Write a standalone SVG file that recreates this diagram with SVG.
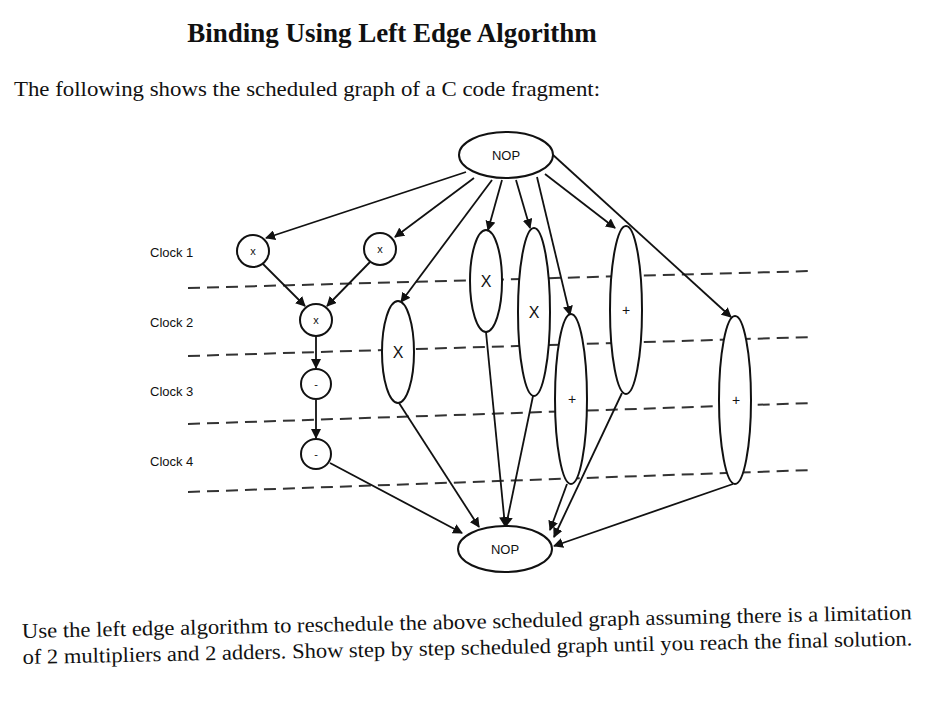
<svg xmlns="http://www.w3.org/2000/svg" width="932" height="716" viewBox="0 0 932 716">
<style>
.n{fill:#fff;stroke:#111;stroke-width:2}
.e{stroke:#111;stroke-width:1.8;fill:none;marker-end:url(#a)}
.d{stroke:#333;stroke-width:2;stroke-dasharray:12 7;fill:none}
.t{font-family:"Liberation Sans",Arial,sans-serif;fill:#111;text-anchor:middle}
.c{font-family:"Liberation Sans",Arial,sans-serif;fill:#111;font-size:13px}
.s{font-family:"Liberation Serif","Times New Roman",serif;fill:#111}
</style>
<defs><marker id="a" markerWidth="10" markerHeight="10" refX="9" refY="5" orient="auto" markerUnits="userSpaceOnUse"><path d="M0,0 L10,5 L0,10 z" fill="#111"/></marker></defs>
<rect width="932" height="716" fill="#fff"/>
<text class="s" x="392" y="42" font-size="27" font-weight="bold" text-anchor="middle">Binding Using Left Edge Algorithm</text>
<text class="s" x="14" y="96" font-size="21" textLength="586" lengthAdjust="spacingAndGlyphs">The following shows the scheduled graph of a C code fragment:</text>
<g transform="rotate(-1.2 22 634)">
<text class="s" x="22" y="638" font-size="21" textLength="890" lengthAdjust="spacingAndGlyphs">Use the left edge algorithm to reschedule the above scheduled graph assuming there is a limitation</text>
<text class="s" x="22" y="664" font-size="21" textLength="890" lengthAdjust="spacingAndGlyphs">of 2 multipliers and 2 adders. Show step by step scheduled graph until you reach the final solution.</text>
</g>
<g id="clocks">
<text class="c" x="150" y="257">Clock 1</text>
<text class="c" x="150" y="327">Clock 2</text>
<text class="c" x="150" y="396">Clock 3</text>
<text class="c" x="150" y="466">Clock 4</text>
<path class="d" d="M188,288 L812,271"/>
<path class="d" d="M188,356 L812,337"/>
<path class="d" d="M188,424 L812,403"/>
<path class="d" d="M188,492 L812,470"/>
</g>
<g id="connectors">
<path class="e" d="M466,172 L266,238"/>
<path class="e" d="M474,178 L395,237"/>
<path class="e" d="M492,180 L401,302"/>
<path class="e" d="M502,180 L488,230"/>
<path class="e" d="M516,180 L530,228"/>
<path class="e" d="M537,177 L570,315"/>
<path class="e" d="M545,174 L615,228"/>
<path class="e" d="M552,154 L731,317"/>
<path class="e" d="M263,264 L305,306"/>
<path class="e" d="M370,262 L327,306"/>
<path class="e" d="M316,336 L316,368"/>
<path class="e" d="M316,400 L316,438"/>
<path class="e" d="M330,463 L462,533"/>
<path class="e" d="M399,403 L479,527"/>
<path class="e" d="M486,332 L505,526"/>
<path class="e" d="M533,396 L506,526"/>
<path class="e" d="M567,484 L550,530"/>
<path class="e" d="M622,393 L554,537"/>
<path class="e" d="M733,484 L554,546"/>
</g>
<g id="nop-top"><ellipse class="n" cx="506" cy="155" rx="47" ry="23"/><text class="t" x="506" y="160" font-size="13">NOP</text></g>
<g id="nop-bottom"><ellipse class="n" cx="505" cy="549" rx="47" ry="23"/><text class="t" x="505" y="554" font-size="13">NOP</text></g>
<g id="m1"><circle class="n" cx="253" cy="251" r="16"/><text class="t" x="253" y="255" font-size="11">x</text></g>
<g id="m2"><circle class="n" cx="380" cy="249" r="16"/><text class="t" x="380" y="253" font-size="11">x</text></g>
<g id="m3"><circle class="n" cx="316" cy="320" r="16"/><text class="t" x="316" y="324" font-size="11">x</text></g>
<g id="s1"><circle class="n" cx="316" cy="384" r="15"/><text class="t" x="316" y="388" font-size="11">-</text></g>
<g id="s2"><circle class="n" cx="316" cy="454" r="15"/><text class="t" x="316" y="458" font-size="11">-</text></g>
<g id="mA"><ellipse class="n" cx="398" cy="352" rx="16" ry="51"/><text class="t" x="398" y="358" font-size="16">X</text></g>
<g id="mB"><ellipse class="n" cx="486" cy="281" rx="16" ry="51"/><text class="t" x="486" y="287" font-size="16">X</text></g>
<g id="mC"><ellipse class="n" cx="534" cy="312" rx="16" ry="84"/><text class="t" x="534" y="318" font-size="16">X</text></g>
<g id="aD"><ellipse class="n" cx="571" cy="399" rx="16" ry="85"/><text class="t" x="572" y="404" font-size="14">+</text></g>
<g id="aE"><ellipse class="n" cx="626" cy="310" rx="16" ry="84"/><text class="t" x="626" y="315" font-size="14">+</text></g>
<g id="aF"><ellipse class="n" cx="735" cy="400" rx="16" ry="84"/><text class="t" x="736" y="405" font-size="14">+</text></g>
</svg>
